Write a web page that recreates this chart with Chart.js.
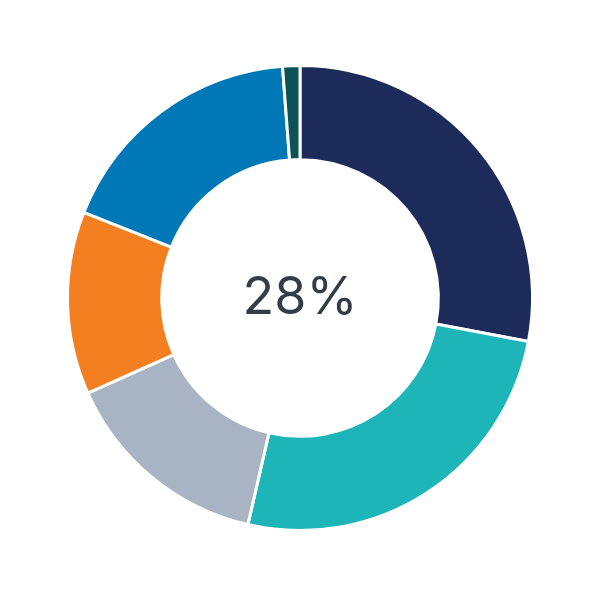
<!DOCTYPE html>
<html>
    <head>
        <title>Doughnut</title>
        <script src="https://cdn.jsdelivr.net/npm/chart.js@4.2.1/dist/chart.umd.min.js"></script>
        <style>
            html, body { margin: 0; padding: 0; background: #ffffff; }
            #wrap { width: 600px; height: 600px; }
        </style>
    </head>
    <body>
        <div id="wrap"><canvas id="donutChart"></canvas></div>
        <script>
            const labels = ["A", "B", "C", "D", "E", "F"];
            const values = [28, 25.6, 14.7, 12.7, 17.8, 1.2];
            const colors = ["#1c2b5a", "#1db5b8", "#a8b4c3", "#f47f20", "#0077b6", "#0d5257"];
            const centerLabel = "28%";

            const centerText = {
                id: "centerText",
                afterDraw: (chart) => {
                    const meta = chart.getDatasetMeta(0).data[0];
                    const ctx = chart.ctx;
                    ctx.save();
                    ctx.font = "52px Inter";
                    ctx.fillStyle = "#333d47";
                    ctx.textAlign = "center";
                    ctx.textBaseline = "middle";
                    ctx.fillText(centerLabel, meta.x, meta.y);
                    ctx.restore();
                },
            };

            new Chart(document.getElementById("donutChart"), {
                type: "doughnut",
                data: {
                    labels: labels,
                    datasets: [{
                        data: values,
                        backgroundColor: colors,
                        borderColor: "#ffffff",
                        borderWidth: 3,
                    }],
                },
                options: {
                    responsive: true,
                    maintainAspectRatio: false,
                    animation: false,
                    cutout: "59.5%",
                    layout: { padding: { left: 66, right: 66, top: 64, bottom: 68 } },
                    plugins: {
                        legend: { display: false },
                        tooltip: { enabled: false },
                    },
                },
                plugins: [centerText],
            });
        </script>
    </body>
</html>
